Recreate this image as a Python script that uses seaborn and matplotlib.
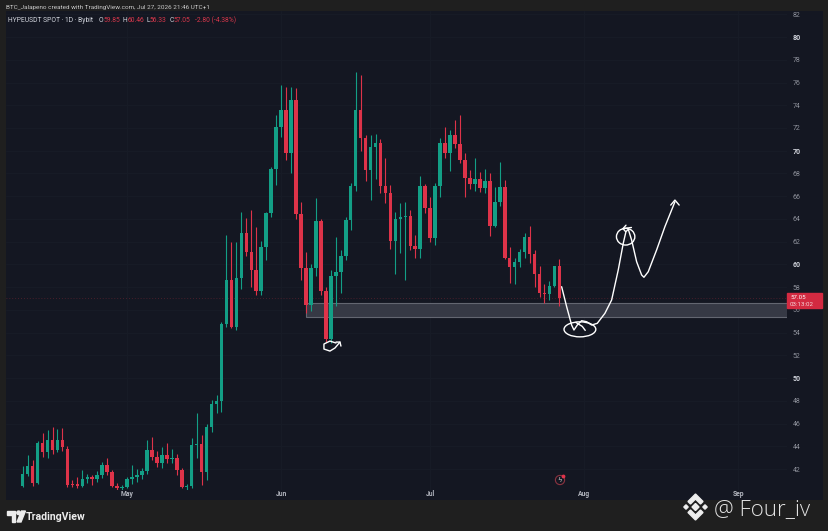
import numpy as np
import pandas as pd
import seaborn as sns
import matplotlib
matplotlib.use("Agg")
import matplotlib.pyplot as plt
from matplotlib.patches import Rectangle, Ellipse, Polygon, Circle

# ---------------- data ----------------
start_date = "2026-04-10"
opens = [40.5, 41.6, 42.3, 40.8, 44.3, 43.5, 44.6, 43.7, 44.6, 43.8,
         40.7, 40.7, 40.5, 41.1, 41.3, 41.1, 41.5, 42.4, 41.7, 40.5,
         40.3, 40.4, 41.1, 41.3, 41.5, 41.8, 43.7, 43.1, 42.5, 43.2,
         42.9, 43.0, 41.9, 40.4, 40.5, 44.1, 44.2, 41.7, 45.7, 47.7,
         48.0, 54.8, 58.6, 54.5, 58.8, 62.8, 61.1, 59.5, 57.7, 61.5,
         64.5, 68.4, 72.1, 73.6, 69.8, 74.5, 64.4, 59.7, 56.4, 59.7,
         63.8, 57.7, 53.4, 59.0, 59.3, 60.7, 63.9, 66.9, 73.6, 71.1,
         68.3, 70.3, 70.7, 66.9, 66.3, 62.1, 64.0, 64.2, 64.3, 61.6,
         61.4, 66.9, 65.0, 62.3, 66.9, 70.7, 69.8, 71.4, 70.6, 69.2,
         67.6, 67.1, 67.5, 66.7, 67.3, 63.4, 65.5, 66.8, 60.6, 59.8,
         60.2, 61.1, 62.4, 60.9, 59.2, 57.5, 57.4, 58.1, 59.85]
highs = [42.3, 43.2, 42.8, 44.5, 45.2, 45.4, 45.7, 45.5, 45.6, 44.0,
         41.0, 41.3, 41.9, 41.6, 41.5, 41.8, 42.6, 43.0, 41.9, 40.8,
         40.6, 41.3, 42.4, 42.0, 42.1, 44.6, 44.8, 43.6, 43.9, 44.3,
         43.8, 43.3, 42.1, 40.7, 44.7, 46.9, 45.0, 46.0, 48.1, 48.5,
         54.9, 62.6, 62.0, 62.0, 64.6, 64.1, 64.8, 63.3, 62.1, 64.6,
         68.6, 73.1, 75.8, 75.6, 75.6, 75.5, 65.5, 61.1, 60.0, 65.8,
         64.0, 58.0, 59.5, 62.4, 61.3, 64.2, 67.2, 76.9, 76.7, 71.4,
         71.4, 71.5, 71.0, 69.4, 67.0, 64.6, 65.4, 65.5, 64.8, 62.6,
         67.8, 67.1, 65.9, 67.2, 71.1, 72.1, 71.8, 72.7, 73.1, 69.8,
         68.3, 69.4, 68.1, 68.4, 68.0, 66.8, 69.0, 67.4, 61.5, 60.6,
         61.4, 62.8, 63.4, 61.3, 59.9, 58.3, 58.5, 59.9, 60.46]
lows = [40.4, 41.4, 40.5, 40.7, 43.1, 43.0, 43.3, 43.5, 43.6, 40.4,
        40.4, 40.3, 40.4, 40.8, 40.6, 40.9, 41.2, 41.5, 40.4, 40.2,
        40.2, 40.3, 40.7, 40.9, 41.1, 41.6, 42.8, 42.2, 42.1, 42.5,
        42.5, 41.5, 40.3, 40.2, 40.3, 43.0, 40.6, 41.0, 45.3, 46.9,
        47.0, 54.5, 54.4, 54.2, 57.8, 60.7, 58.0, 57.3, 57.3, 60.4,
        64.2, 67.0, 71.2, 69.2, 68.0, 64.0, 58.6, 55.7, 55.9, 59.0,
        57.3, 53.2, 53.1, 56.3, 57.5, 60.4, 63.0, 66.5, 70.0, 67.3,
        65.7, 67.5, 66.3, 65.4, 61.4, 59.2, 61.0, 58.6, 61.3, 60.6,
        60.6, 64.5, 62.0, 61.7, 65.9, 69.4, 68.2, 70.2, 68.9, 65.9,
        66.6, 66.5, 66.4, 66.3, 62.5, 63.3, 65.1, 60.5, 58.4, 58.3,
        59.8, 60.6, 60.1, 58.0, 57.1, 56.6, 56.9, 58.0, 56.33]
closes = [41.6, 42.3, 40.8, 44.3, 43.5, 44.6, 43.7, 44.6, 43.9, 40.6,
          40.6, 40.5, 41.1, 41.3, 41.1, 41.5, 42.4, 41.7, 40.5, 40.3,
          40.4, 41.1, 41.3, 41.5, 41.8, 43.7, 43.1, 42.5, 43.2, 42.9,
          43.0, 41.9, 40.4, 40.5, 44.1, 44.2, 41.7, 45.7, 47.7, 48.0,
          54.8, 58.6, 54.5, 58.8, 62.8, 61.1, 59.5, 57.7, 61.5, 64.5,
          68.4, 72.1, 73.6, 69.8, 74.5, 64.4, 59.7, 56.4, 59.7, 63.8,
          57.7, 53.4, 59.0, 59.3, 60.7, 63.9, 66.9, 73.6, 71.1, 68.3,
          70.3, 70.7, 66.9, 66.3, 62.1, 64.0, 64.2, 64.3, 61.6, 61.4,
          66.9, 65.0, 62.3, 66.9, 70.7, 69.8, 71.4, 70.6, 69.2, 67.6,
          67.1, 67.5, 66.7, 67.3, 63.4, 65.5, 66.8, 60.6, 59.8, 60.2,
          61.1, 62.4, 60.9, 59.2, 57.5, 57.4, 58.1, 59.85, 57.05]
price_ticks = list(range(42, 84, 2))
bold_ticks = [50, 60, 70, 80]
month_starts = ["2026-05-01", "2026-06-01", "2026-07-01", "2026-08-01", "2026-09-01"]
zone_low, zone_high = 55.4, 56.6
zone_start_day = 57
header_1 = "BTC_Jalapeno created with TradingView.com, Jul 27, 2026 21:46 UTC+1"
symbol_text = "HYPEUSDT SPOT · 1D · Bybit"
change_text = "-2.80 (-4.38%)"
countdown = "03:13:02"

# hand drawn projection (day index, price)
path_x = [108.45, 109.46, 110.46, 110.93, 111.6, 112.47, 113.48, 114.49, 115.62,
          117.16, 118.51, 119.84, 120.85, 121.39, 121.86, 122.53, 123.54,
          124.55, 125.01, 125.88, 127.56, 129.23, 131.25]
path_y = [58.04, 56.28, 54.67, 54.23, 54.67, 55.05, 54.96, 54.67, 54.82,
          55.70, 56.87, 59.51, 61.86, 62.88, 63.09, 62.15, 60.24,
          59.07, 58.87, 59.36, 61.27, 63.32, 65.51]

# ---------------- style ----------------
sns.set_theme(style="dark", rc={"axes.facecolor": "none", "figure.facecolor": "#1f1f1f"})
plt.rcParams["font.family"] = ["Roboto", "DejaVu Sans"]

UP, DOWN = "#139f86", "#de3349"
PANEL = "#141722"
W, H = 829, 531

df = pd.DataFrame({"date": pd.date_range(start_date, periods=len(opens)),
                   "open": opens, "high": highs, "low": lows, "close": closes})
df["day"] = np.arange(len(df))
df["dir"] = np.where(df["close"] >= df["open"], "up", "down")
df["body_lo"] = df[["open", "close"]].min(axis=1)
df["body_h"] = (df["close"] - df["open"]).abs().clip(lower=0.08)

fig = plt.figure(figsize=(W / 100, H / 100), dpi=100, facecolor="#1f1f1f")


def frac(x0, y0, x1, y1):
    return [x0 / W, 1 - y1 / H, (x1 - x0) / W, (y1 - y0) / H]


bg = fig.add_axes(frac(6, 11, 823, 500))
bg.set_facecolor(PANEL)
bg.set_xticks([]); bg.set_yticks([])
for s in bg.spines.values():
    s.set_visible(False)

ax = fig.add_axes(frac(6, 11, 787, 490))
ax.set_facecolor("none")
ax.set_xlim(-3.36, 153.8)
ax.set_ylim(40.16, 82.29)

# grid
ax.set_yticks(price_ticks)
ms_days = [(pd.Timestamp(m) - pd.Timestamp(start_date)).days for m in month_starts]
ax.set_xticks(ms_days)
ax.set_xticklabels([pd.Timestamp(m).strftime("%b") for m in month_starts])
ax.grid(True, color="#181c27", lw=0.6)
for s in ax.spines.values():
    s.set_visible(False)

# wicks + bodies
palette = {"up": UP, "down": DOWN}
for d, sub in df.groupby("dir"):
    ax.vlines(sub["day"], sub["low"], sub["high"], color=palette[d], lw=0.8, zorder=3)
    ax.bar(sub["day"], sub["body_h"], bottom=sub["body_lo"], width=0.72,
           color=palette[d], edgecolor="none", zorder=4)

# support zone
ax.add_patch(Rectangle((zone_start_day, zone_low), 200, zone_high - zone_low,
                       facecolor="#3a3d49", edgecolor="#6b6e79", lw=0.8, alpha=0.9, zorder=2))
# last price line
ax.axhline(closes[-1], color="#a02c3a", lw=0.6, ls=(0, (1, 2.5)), alpha=0.5, zorder=1)

# hand drawings
wkw = dict(color="white", lw=1.0, zorder=6, solid_capstyle="round", solid_joinstyle="round")
sns.lineplot(x=path_x, y=path_y, sort=False, ax=ax, estimator=None, **wkw)
ax.plot([130.4, 131.25, 132.1], [65.22, 65.66, 65.22], **wkw)
ax.add_patch(Ellipse((112.13, 54.29), 6.4, 1.32, fill=False, ec="white", lw=1.0, zorder=6))
ax.add_patch(Ellipse((121.33, 62.44), 3.7, 1.47, fill=False, ec="white", lw=1.0, zorder=6))
ax.plot([122.5, 120.8], [63.25, 63.15], **wkw)
ax.plot([121.4, 120.8, 121.3], [63.45, 63.15, 62.9], **wkw)
ax.plot([111.3, 112.6, 113.2], [54.9, 54.55, 54.2], **wkw)
# hook at the low
ax.plot([63.04, 61.83, 60.62, 60.62, 61.83, 62.84, 63.84],
        [53.09, 53.26, 53.00, 52.56, 52.38, 52.65, 53.17], **wkw)
ax.plot([63.04, 63.84, 64.04], [53.17, 53.17, 52.82], **wkw)

# axis labels
ax.yaxis.tick_right()
ax.tick_params(axis="y", length=0, pad=4.2, labelsize=5.0, labelcolor="#8e919b")
ax.tick_params(axis="x", length=0, pad=-0.3, labelsize=4.9, labelcolor="#b2b5be")
for lab in ax.get_xticklabels():
    lab.set_fontweight("bold")
for lab, v in zip(ax.get_yticklabels(), price_ticks):
    if v in bold_ticks:
        lab.set_fontweight("bold")
        lab.set_color("#d1d4dc")

# ---------------- decorations (pixel overlay) ----------------
deco = fig.add_axes([0, 0, 1, 1], zorder=10)
deco.set_xlim(0, W); deco.set_ylim(H, 0)
deco.axis("off")
deco.patch.set_alpha(0)

deco.text(6, 7, header_1, fontsize=4.6, color="#c9c9c9", va="center", ha="left")

t = deco.text(8, 21, symbol_text + "  ", fontsize=4.9, color="#d1d4dc", va="center", ha="left")
ohlc = [("O", opens[-1]), ("H", highs[-1]), ("L", lows[-1]), ("C", closes[-1])]
prev = t
for k, v in ohlc:
    prev = deco.annotate(k, xy=(1, 0), xycoords=prev, xytext=(1.8, 0), textcoords="offset points",
                         fontsize=4.9, color="#d1d4dc", va="bottom")
    prev = deco.annotate(f"{v:.2f}", xy=(1, 0), xycoords=prev, fontsize=4.9,
                         color="#d8374b", va="bottom")
deco.annotate(change_text, xy=(1, 0), xycoords=prev, xytext=(3, 0), textcoords="offset points",
              fontsize=4.9, color="#d8374b", va="bottom")

# current price label
deco.add_patch(Rectangle((787.5, 293), 35, 15, color="#d32a41", zorder=5))
deco.text(790, 297.3, f"{closes[-1]:.2f}", fontsize=4.4, color="white", va="center", zorder=6)
deco.text(790, 304, countdown, fontsize=4.4, color="#f5d5d9", va="center", zorder=6)

# lightning icon
deco.add_patch(Circle((560, 480), 4.6, fill=False, ec="#8b3340", lw=0.8))
deco.text(560, 480.3, "ϟ", fontsize=5, color="#c7c7c7", ha="center", va="center", family="DejaVu Sans")
deco.add_patch(Circle((563.5, 476.5), 1.2, color="#e0344b"))

# TradingView logo
deco.add_patch(Polygon([[7, 511], [15.5, 511], [15.5, 522], [12, 522], [12, 514.5], [7, 514.5]],
                       closed=True, color="#ececec"))
deco.add_patch(Circle((18.6, 512.8), 1.8, color="#ececec"))
deco.add_patch(Polygon([[21.5, 511], [25.5, 511], [21, 522], [17, 522]], closed=True, color="#ececec"))
deco.text(25.5, 516.5, "TradingView", fontsize=7.6, color="#ececec", va="center", ha="left",
          fontweight="bold")

# watermark with diamond logo
cx, cy = 695.5, 507
deco.add_patch(Polygon([[cx, cy - 3.5], [cx + 3.5, cy], [cx, cy + 3.5], [cx - 3.5, cy]], color="#eeeeee"))
for dx in (-9.5, 9.5):
    deco.add_patch(Polygon([[cx + dx, cy - 2.2], [cx + dx + 2.2, cy], [cx + dx, cy + 2.2],
                            [cx + dx - 2.2, cy]], color="#eeeeee"))
for sgn in (-1, 1):
    deco.add_patch(Polygon([[cx - 7.5, cy + sgn * 5.5], [cx, cy + sgn * 13], [cx + 7.5, cy + sgn * 5.5],
                            [cx + 5, cy + sgn * 3], [cx, cy + sgn * 8], [cx - 5, cy + sgn * 3]],
                           color="#eeeeee"))
deco.text(714, 510, "@ Four_iv", fontsize=16, color="#e2e2e2", va="center", ha="left",
          family=["Open Sans", "DejaVu Sans"], fontweight="light")

fig.savefig("out.png", dpi=100, facecolor=fig.get_facecolor())
